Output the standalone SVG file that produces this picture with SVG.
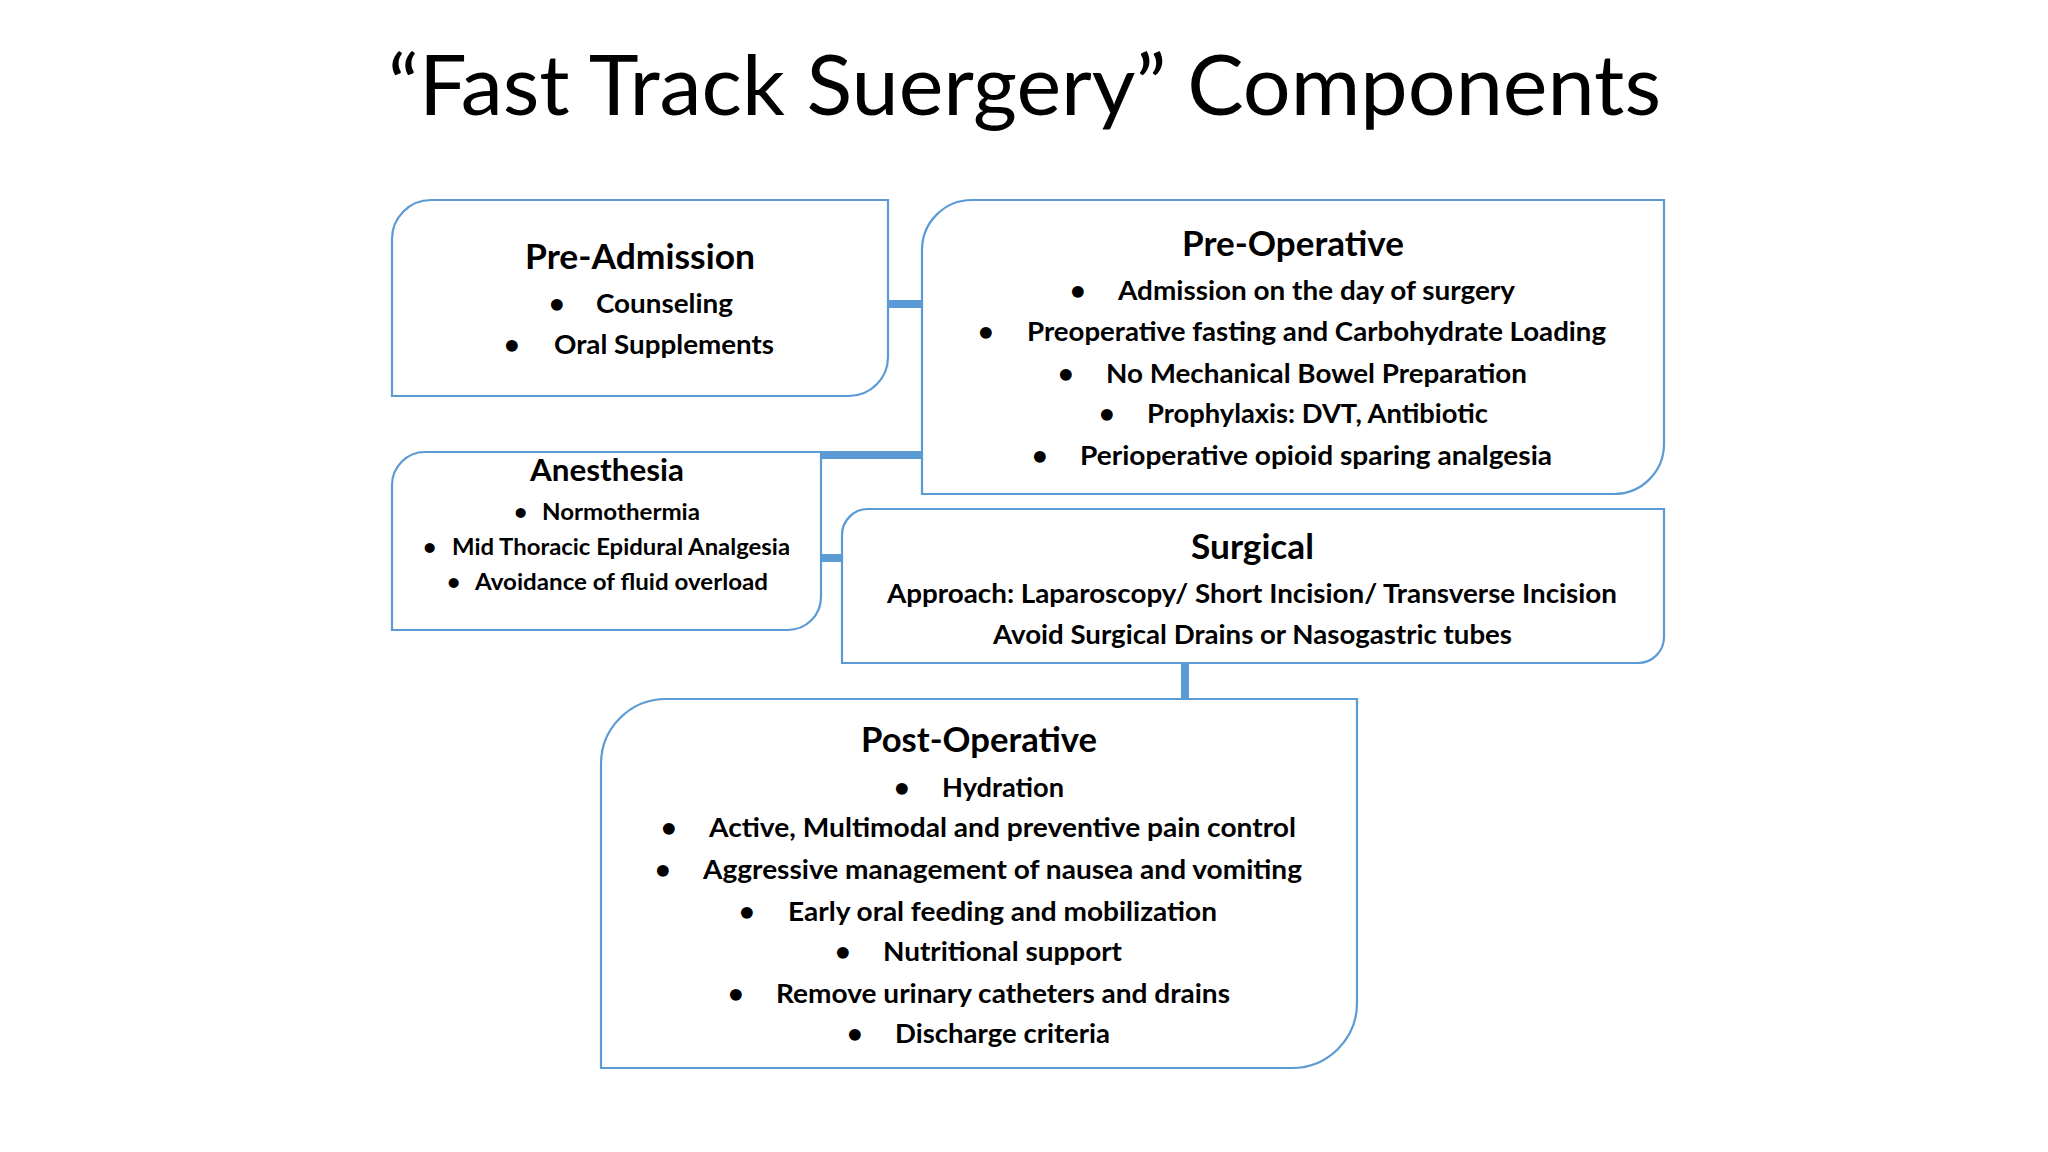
<svg xmlns="http://www.w3.org/2000/svg" width="2048" height="1152" viewBox="0 0 2048 1152">
<style>
text{font-family:Lato,"Open Sans","Liberation Sans",sans-serif;fill:#000;font-weight:bold}
.box{fill:#fff;stroke:#5B9BD5;stroke-width:2.2}
.c{stroke:#5B9BD5;stroke-width:8;fill:none}
.h{font-size:34px}
.i{font-size:27px}
.s{font-size:23px}
.ttl{font-size:84px;font-weight:normal}
</style>
<rect width="2048" height="1152" fill="#fff"/>
<text class="ttl" x="388" y="115" textLength="1273" lengthAdjust="spacingAndGlyphs">“Fast Track Suergery” Components</text>
<g id="connectors">
<line class="c" x1="888" y1="304" x2="922" y2="304"/>
<line class="c" x1="821" y1="455" x2="922" y2="455"/>
<line class="c" x1="821" y1="558" x2="842" y2="558"/>
<line class="c" x1="1185" y1="663" x2="1185" y2="699"/>
</g>
<g id="pre-admission">
<path class="box" d="M431 200H888V357A39 39 0 0 1 849 396H392V239A39 39 0 0 1 431 200Z"/>
<text class="h" x="525" y="269" textLength="230" lengthAdjust="spacingAndGlyphs">Pre-Admission</text>
<text class="i" x="549" y="313">•</text><text class="i" x="596" y="313" textLength="137" lengthAdjust="spacingAndGlyphs">Counseling</text>
<text class="i" x="504" y="354">•</text><text class="i" x="554" y="354" textLength="220" lengthAdjust="spacingAndGlyphs">Oral Supplements</text>
</g>
<g id="pre-operative">
<path class="box" d="M972 200H1664V444A50 50 0 0 1 1614 494H922V250A50 50 0 0 1 972 200Z"/>
<text class="h" x="1182" y="256" textLength="222" lengthAdjust="spacingAndGlyphs">Pre-Operative</text>
<text class="i" x="1070" y="300">•</text><text class="i" x="1118" y="300" textLength="397" lengthAdjust="spacingAndGlyphs">Admission on the day of surgery</text>
<text class="i" x="978" y="341">•</text><text class="i" x="1027" y="341" textLength="579" lengthAdjust="spacingAndGlyphs">Preoperative fasting and Carbohydrate Loading</text>
<text class="i" x="1058" y="383">•</text><text class="i" x="1106" y="383" textLength="421" lengthAdjust="spacingAndGlyphs">No Mechanical Bowel Preparation</text>
<text class="i" x="1099" y="423">•</text><text class="i" x="1147" y="423" textLength="341" lengthAdjust="spacingAndGlyphs">Prophylaxis: DVT, Antibiotic</text>
<text class="i" x="1032" y="465">•</text><text class="i" x="1080" y="465" textLength="472" lengthAdjust="spacingAndGlyphs">Perioperative opioid sparing analgesia</text>
</g>
<g id="anesthesia">
<path class="box" d="M425 452H821V597A33 33 0 0 1 788 630H392V485A33 33 0 0 1 425 452Z"/>
<text class="h" x="530" y="481" textLength="154" lengthAdjust="spacingAndGlyphs" style="font-size:31px">Anesthesia</text>
<text class="s" x="514" y="520">•</text><text class="s" x="542" y="520" textLength="158" lengthAdjust="spacingAndGlyphs">Normothermia</text>
<text class="s" x="423" y="555">•</text><text class="s" x="452" y="555" textLength="338" lengthAdjust="spacingAndGlyphs">Mid Thoracic Epidural Analgesia</text>
<text class="s" x="447" y="590">•</text><text class="s" x="475" y="590" textLength="293" lengthAdjust="spacingAndGlyphs">Avoidance of fluid overload</text>
</g>
<g id="surgical">
<path class="box" d="M868 509H1664V637A26 26 0 0 1 1638 663H842V535A26 26 0 0 1 868 509Z"/>
<text class="h" x="1191" y="559" textLength="123" lengthAdjust="spacingAndGlyphs">Surgical</text>
<text class="i" x="887" y="603" textLength="730" lengthAdjust="spacingAndGlyphs">Approach: Laparoscopy/ Short Incision/ Transverse Incision</text>
<text class="i" x="993" y="644" textLength="519" lengthAdjust="spacingAndGlyphs">Avoid Surgical Drains or Nasogastric tubes</text>
</g>
<g id="post-operative">
<path class="box" d="M666 699H1357V1003A65 65 0 0 1 1292 1068H601V764A65 65 0 0 1 666 699Z"/>
<text class="h" x="861" y="752" textLength="236" lengthAdjust="spacingAndGlyphs">Post-Operative</text>
<text class="i" x="894" y="797">•</text><text class="i" x="942" y="797" textLength="122" lengthAdjust="spacingAndGlyphs">Hydration</text>
<text class="i" x="661" y="837">•</text><text class="i" x="709" y="837" textLength="587" lengthAdjust="spacingAndGlyphs">Active, Multimodal and preventive pain control</text>
<text class="i" x="655" y="879">•</text><text class="i" x="703" y="879" textLength="599" lengthAdjust="spacingAndGlyphs">Aggressive management of nausea and vomiting</text>
<text class="i" x="739" y="921">•</text><text class="i" x="788" y="921" textLength="429" lengthAdjust="spacingAndGlyphs">Early oral feeding and mobilization</text>
<text class="i" x="835" y="961">•</text><text class="i" x="883" y="961" textLength="239" lengthAdjust="spacingAndGlyphs">Nutritional support</text>
<text class="i" x="728" y="1003">•</text><text class="i" x="776" y="1003" textLength="454" lengthAdjust="spacingAndGlyphs">Remove urinary catheters and drains</text>
<text class="i" x="847" y="1043">•</text><text class="i" x="895" y="1043" textLength="215" lengthAdjust="spacingAndGlyphs">Discharge criteria</text>
</g>
</svg>
